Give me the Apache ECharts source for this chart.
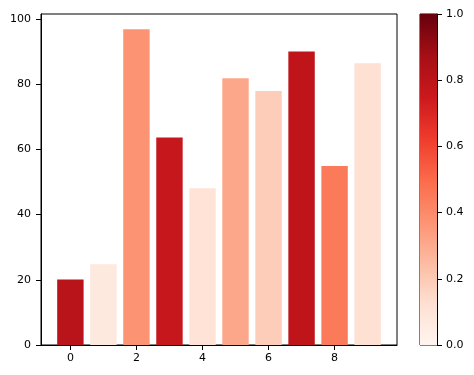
<!DOCTYPE html>
<html><head><meta charset="utf-8">
<script src="https://cdn.jsdelivr.net/npm/echarts@6/dist/echarts.min.js"></script>
<style>html,body{margin:0;padding:0;background:#fff}#c{width:474px;height:375px}</style>
</head><body><div id="c"></div>
<script>
const categories = [0,1,2,3,4,5,6,7,8,9];
const values = [20.1, 24.8, 96.8, 63.6, 48.1, 81.8, 77.9, 90.0, 54.9, 86.4];
const colorValues = [0.81, 0.07, 0.37, 0.77, 0.11, 0.31, 0.19, 0.79, 0.45, 0.12];
const xTicks = [0,2,4,6,8];
const yTicks = [0,20,40,60,80,100];
const cbTicks = [0,0.2,0.4,0.6,0.8,1.0];
const reds = ['#fff5f0','#fee0d2','#fcbba1','#fc9272','#fb6a4a','#ef3b2c','#cb181d','#a50f15','#67000d'];

const chart = echarts.init(document.getElementById('c'), null, {renderer:'canvas'});
const font = {fontFamily:'DejaVu Sans', fontSize:11, color:'#000'};
const xMin = -0.89, xMax = 9.89;
const plotW = 356;
const barW = 0.8 * plotW / (xMax - xMin);
chart.setOption({
  animation:false,
  grid:[
    {left:41, top:14, width:plotW, height:331, show:true, borderColor:'#000', borderWidth:1, containLabel:false},
    {left:420, top:14, width:17, height:331, show:true, borderColor:'#000', borderWidth:1, containLabel:false}
  ],
  xAxis:[
    {type:'value', gridIndex:0, min:xMin, max:xMax, splitLine:{show:false},
     axisLine:{show:true, onZero:false, lineStyle:{color:'#000'}},
     axisTick:{show:true, length:5, customValues:xTicks, lineStyle:{color:'#000'}},
     axisLabel:Object.assign({customValues:xTicks, margin:8}, font)},
    {type:'category', gridIndex:1, data:[''], show:false}
  ],
  yAxis:[
    {type:'value', gridIndex:0, min:0, max:101.5, splitLine:{show:false},
     axisLine:{show:true, onZero:false, lineStyle:{color:'#000'}},
     axisTick:{show:true, length:5, customValues:yTicks, lineStyle:{color:'#000'}},
     axisLabel:Object.assign({customValues:yTicks, margin:10}, font)},
    {type:'value', gridIndex:1, min:0, max:1, position:'right', splitLine:{show:false},
     axisLine:{show:true, onZero:false, lineStyle:{color:'#000'}},
     axisTick:{show:true, length:5, customValues:cbTicks, lineStyle:{color:'#000'}},
     axisLabel:Object.assign({customValues:cbTicks, margin:9, formatter:v=>v.toFixed(1)}, font)}
  ],
  visualMap:{show:false, type:'continuous', seriesIndex:0, dimension:2, min:0, max:1,
    inRange:{color:reds}},
  series:[
    {type:'bar', xAxisIndex:0, yAxisIndex:0, barWidth:barW,
     data:categories.map((c,i)=>[c, values[i], colorValues[i]])},
    {type:'bar', xAxisIndex:1, yAxisIndex:1, barWidth:'100%', silent:true,
     data:[1],
     itemStyle:{color:new echarts.graphic.LinearGradient(0,1,0,0,
        reds.map((c,i)=>({offset:i/(reds.length-1), color:c})))}}
  ]
});
</script></body></html>
